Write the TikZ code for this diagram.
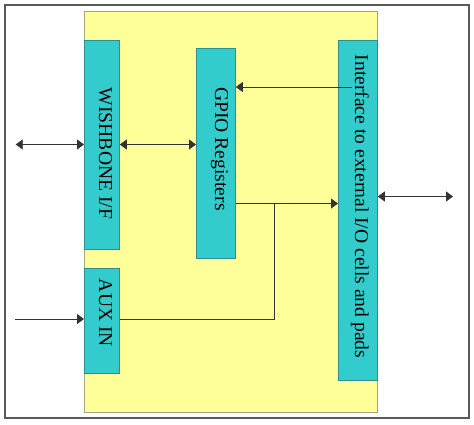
\documentclass[tikz,border=0pt]{standalone}
\usepackage{fontspec}
\setmainfont{Liberation Serif}
\usetikzlibrary{arrows.meta}
\definecolor{bgyellow}{HTML}{FFFF99}
\definecolor{yborder}{HTML}{A8A480}
\definecolor{boxteal}{HTML}{33CCCC}
\definecolor{boxborder}{HTML}{2F8F8F}
\definecolor{framegray}{HTML}{5A5A5A}
\definecolor{linegray}{HTML}{333333}
\begin{document}
\begin{tikzpicture}[x=1pt,y=-1pt,
  region/.style={inner sep=0pt, anchor=north west},
  blk/.style={draw=boxborder, fill=boxteal, line width=0.8pt, inner sep=0pt, anchor=north west},
  lbl/.style={rotate=-90, anchor=base, font=\fontsize{19.6}{20}\selectfont, inner sep=0pt, text=black},
  conn/.style={draw=linegray, line width=0.9pt},
  tip/.style={conn, -{Triangle[length=7pt,width=10pt]}},
  dbl/.style={conn, {Triangle[length=7pt,width=10pt]}-{Triangle[length=7pt,width=10pt]}}]
\useasboundingbox (0,0) rectangle (474,424);
\fill[white] (0,0) rectangle (474,424);
\node[region, draw=framegray, line width=1.5pt, minimum width=464pt, minimum height=413pt] (frame) at (4,4) {};
\node[region, draw=yborder, fill=bgyellow, line width=0.6pt, minimum width=293pt, minimum height=401pt] (core) at (84,11) {};
\node[blk, minimum width=35pt, minimum height=209pt] (wb) at (84,40) {};
\node[blk, minimum width=35pt, minimum height=105pt] (aux) at (84,268) {};
\node[blk, minimum width=39pt, minimum height=210pt] (gpio) at (196,48) {};
\node[blk, minimum width=39pt, minimum height=340pt] (iface) at (338,40) {};
\node[lbl] (wbt) at (99,153.5) {WISHBONE I/F};
\node[lbl] (auxt) at (99,313) {AUX IN};
\node[lbl] (gpiot) at (215,149) {GPIO Registers};
\node[lbl] (ifacet) at (355,206.5) {Interface to external I/O cells and pads};
\coordinate (extL) at (15.7,144.5);
\coordinate (extR) at (453,196.5);
\coordinate (auxin) at (15,319);
\coordinate (ifsrc) at (352,87);
\coordinate (jy) at (274,203.5);
\coordinate (auxturn) at (274,319);
\draw[dbl] (extL) -- (extL -| wb.west);
\draw[dbl] (extL -| wb.east) -- (extL -| gpio.west);
\draw[tip] (ifsrc) -- (ifsrc -| gpio.east);
\draw[tip] (jy -| gpio.east) -- (jy -| iface.west);
\draw[conn] (auxturn -| aux.east) -- (auxturn) -- (jy);
\draw[tip] (auxin) -- (auxin -| aux.west);
\draw[dbl] (extR -| iface.east) -- (extR);
\end{tikzpicture}
\end{document}
